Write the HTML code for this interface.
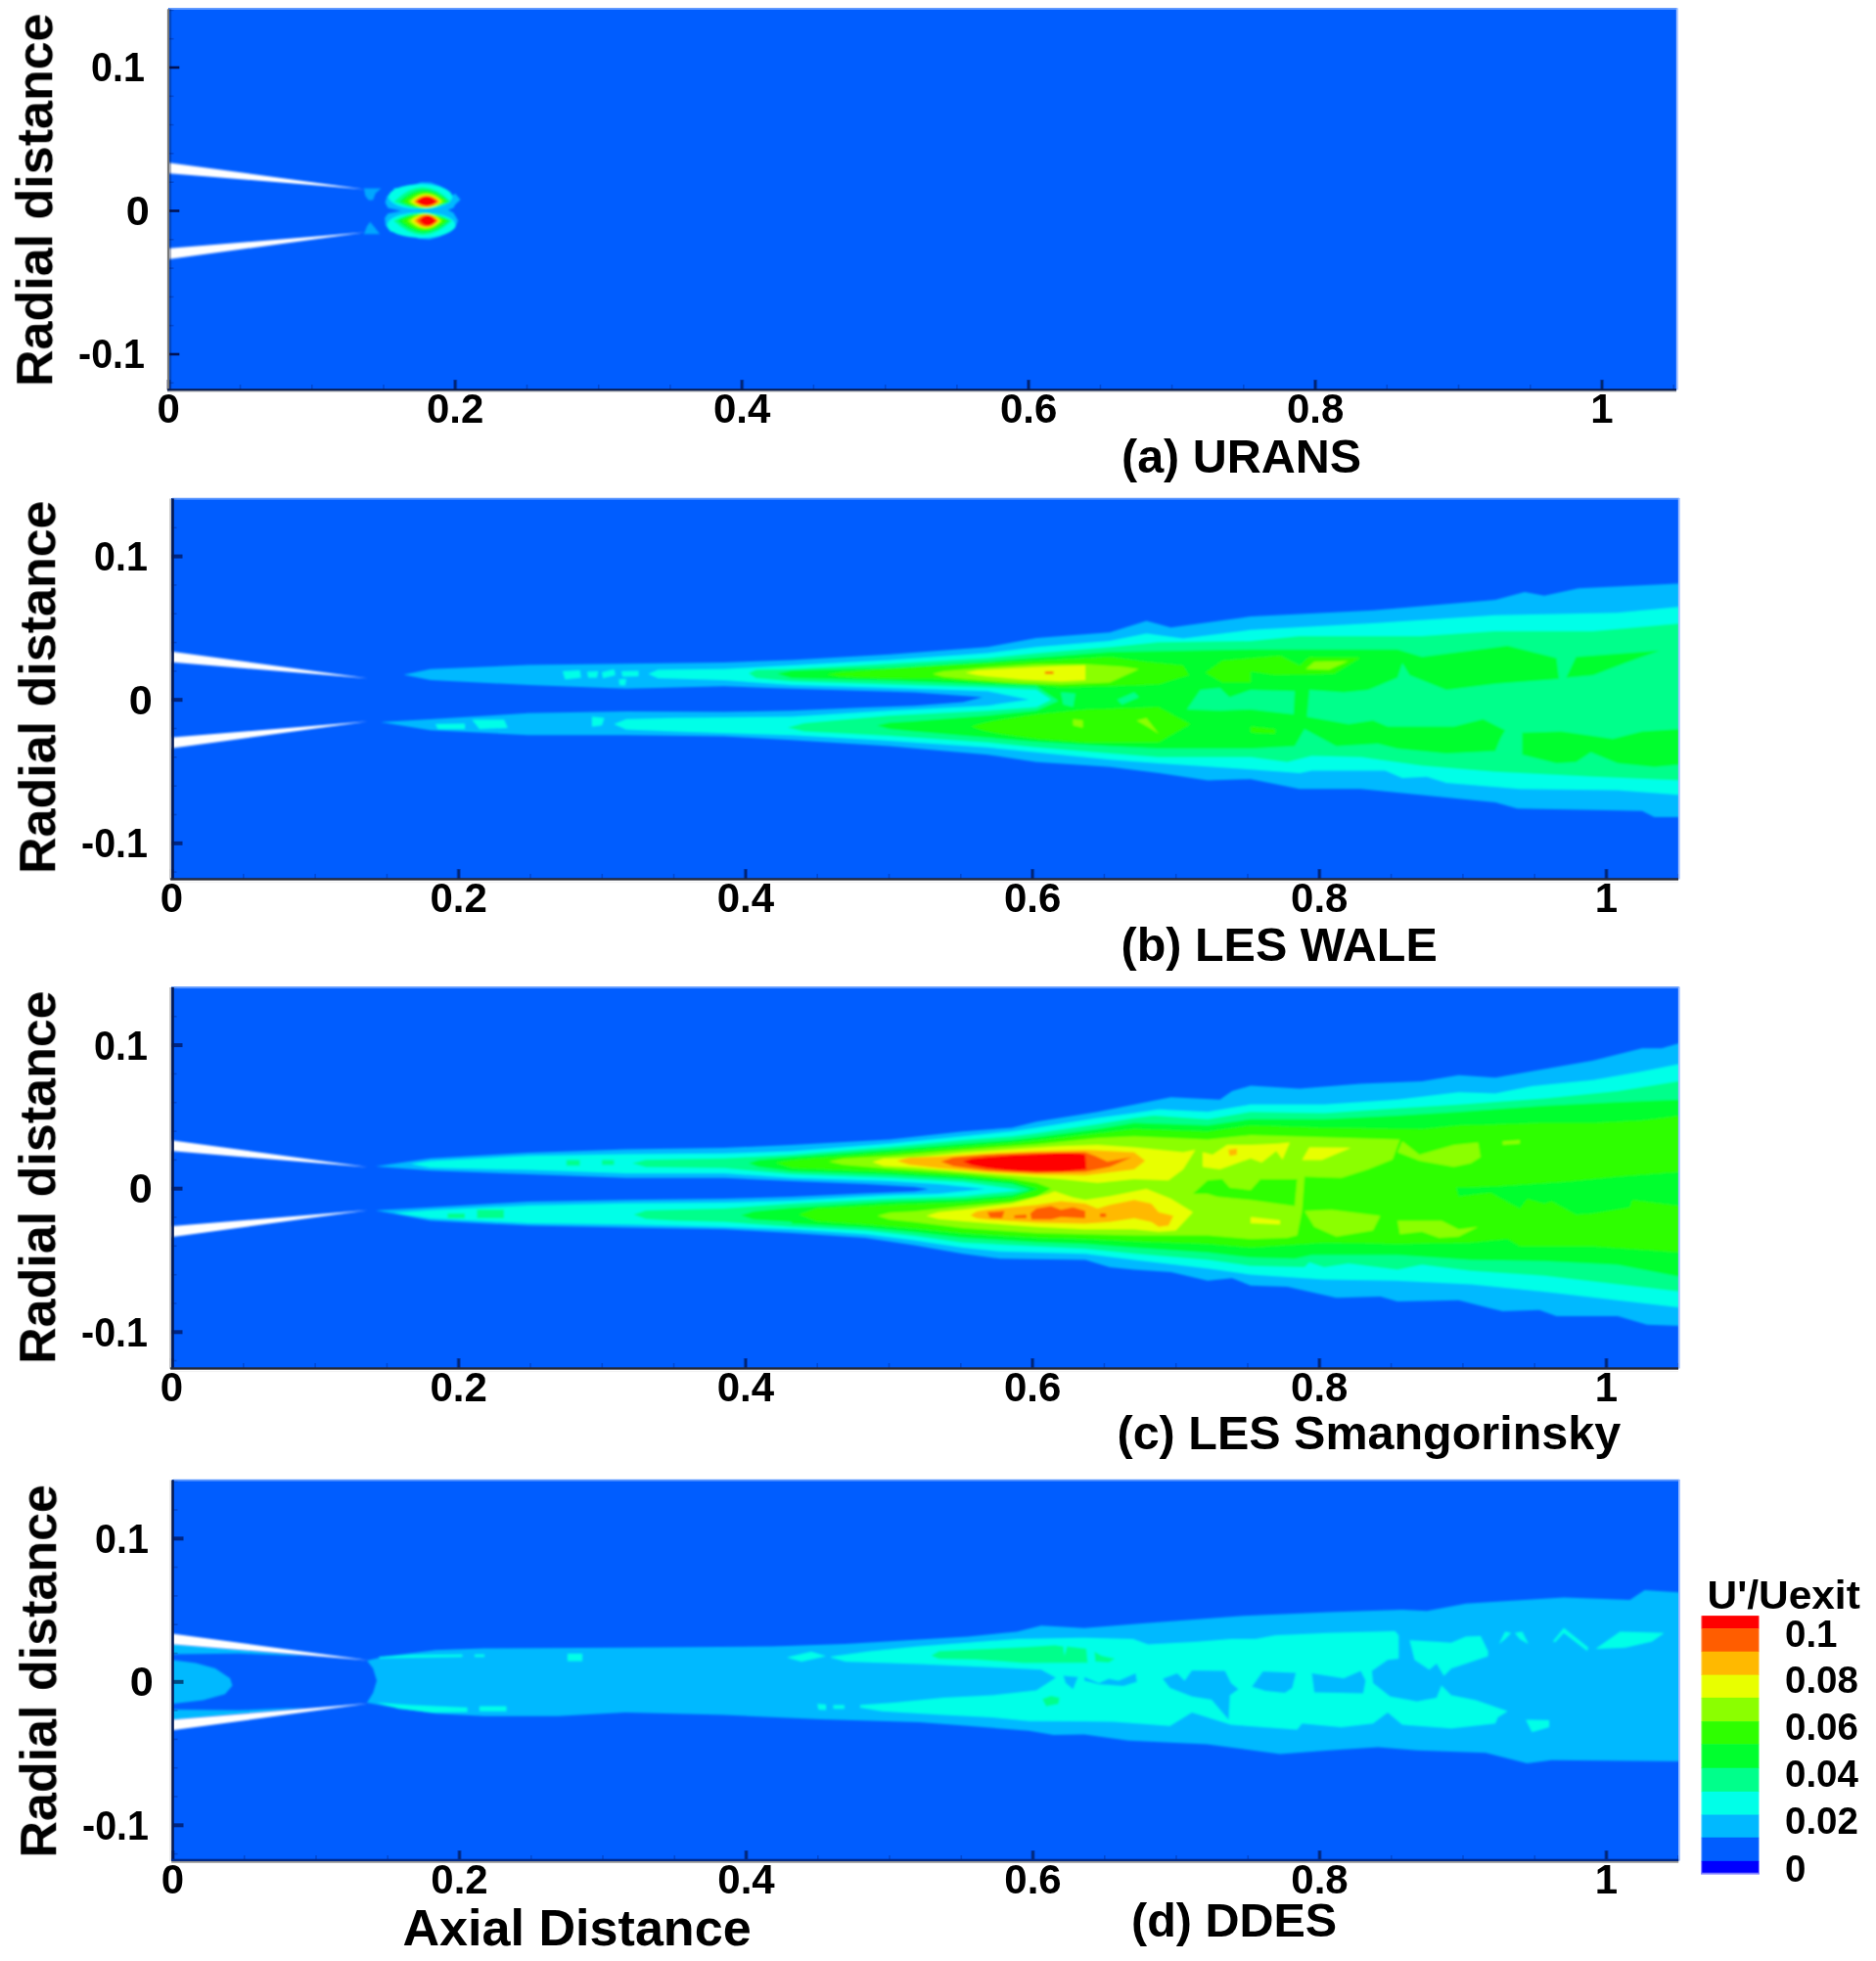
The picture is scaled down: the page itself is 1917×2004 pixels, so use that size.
<!DOCTYPE html>
<html><head><meta charset="utf-8"><title>Velocity fluctuation contours</title>
<style>
html,body{margin:0;padding:0;background:#fff;}
body{width:1917px;height:2004px;overflow:hidden;}
svg{display:block;}
text{font-family:"Liberation Sans",Arial,Helvetica,sans-serif;font-weight:bold;fill:#000;filter:url(#tx);}
</style></head><body>
<svg width="1917" height="2004" viewBox="0 0 1917 2004">
<defs>
<filter id="bl" x="-2%" y="-2%" width="104%" height="104%"><feGaussianBlur stdDeviation="0.9"/></filter>
<filter id="bl2" x="-5%" y="-5%" width="110%" height="110%"><feGaussianBlur stdDeviation="1.3"/></filter>
<filter id="tx" x="-5%" y="-10%" width="110%" height="120%"><feGaussianBlur stdDeviation="0.45"/></filter>
<filter id="tb" x="-5%" y="-5%" width="110%" height="110%"><feGaussianBlur stdDeviation="0.6"/></filter>
<filter id="wb" x="-5%" y="-20%" width="110%" height="140%"><feGaussianBlur stdDeviation="0.9"/></filter>
<clipPath id="ca"><rect x="172.0" y="8.3" width="1541.0" height="390.2"/></clipPath><clipPath id="cb"><rect x="175.0" y="509.0" width="1540.0" height="389.5"/></clipPath><clipPath id="cc"><rect x="175.0" y="1008.5" width="1540.0" height="390.0"/></clipPath><clipPath id="cd"><rect x="176.0" y="1512.0" width="1539.2" height="389.5"/></clipPath>
</defs>
<rect width="1917" height="2004" fill="#fff"/>
<rect x="172" y="8.2" width="1541" height="390.8" fill="#005dff"/>
<g filter="url(#bl2)" clip-path="url(#ca)"><path d="M393.6 207.0L395.7 200.1L401.4 197.0L402.6 192.0L409.5 192.0L413.9 195.7L421.4 189.5L430.2 186.3L440.2 186.6L449.0 189.8L456.5 193.8L460.9 200.1L465.3 198.0L470.5 203.9L465.3 208.9L463.4 212.6L457.8 214.5L463.4 217.6L468.0 225.2L465.3 232.7L457.8 237.7L449.0 242.1L439.0 244.8L427.7 243.9L420.2 240.2L410.1 236.4L398.9 237.1L393.9 230.2L393.2 222.7L396.4 218.3L410.1 215.4L396.4 212.6Z" fill="#00b9ff"/><ellipse cx="429.6" cy="200.9" rx="32.6" ry="12.7" fill="#00ffe8"/><ellipse cx="430.5" cy="230.0" rx="34.8" ry="13.0" fill="#00ffe8"/><path d="M402.6 206.0Q431.8 176.7 460.9 206.0Q431.8 220.5 402.6 206.0Z" fill="#00ff8b"/><path d="M402.0 225.5Q432.1 209.3 462.1 225.5Q432.1 254.8 402.0 225.5Z" fill="#00ff8b"/><path d="M408.3 206.0Q433.3 182.2 458.4 206.0Q433.3 219.8 408.3 206.0Z" fill="#00ff2e"/><path d="M406.4 225.5Q432.7 210.0 459.0 225.5Q432.7 249.3 406.4 225.5Z" fill="#00ff2e"/><path d="M412.0 206.0Q434.3 186.2 456.5 206.0Q434.3 219.3 412.0 206.0Z" fill="#2eff00"/><path d="M410.8 225.5Q433.6 210.8 456.5 225.5Q433.6 245.8 410.8 225.5Z" fill="#2eff00"/><path d="M417.0 206.0Q435.2 189.7 453.4 206.0Q435.2 218.5 417.0 206.0Z" fill="#8bff00"/><path d="M416.4 225.5Q434.3 211.5 452.1 225.5Q434.3 242.6 416.4 225.5Z" fill="#8bff00"/><path d="M419.9 206.0Q435.6 191.7 451.2 206.0Q435.6 217.8 419.9 206.0Z" fill="#e8ff00"/><path d="M419.9 225.5Q435.0 212.3 450.0 225.5Q435.0 240.6 419.9 225.5Z" fill="#e8ff00"/><path d="M422.0 206.0Q435.9 193.2 449.7 206.0Q435.9 216.8 422.0 206.0Z" fill="#ffb900"/><path d="M422.4 225.5Q435.5 213.0 448.5 225.5Q435.5 239.1 422.4 225.5Z" fill="#ffb900"/><path d="M423.9 206.0Q436.0 194.5 448.0 206.0Q436.0 215.8 423.9 206.0Z" fill="#ff5d00"/><path d="M425.2 225.5Q436.1 213.8 447.1 225.5Q436.1 237.6 425.2 225.5Z" fill="#ff5d00"/><path d="M425.8 206.0Q436.0 195.7 446.2 206.0Q436.0 214.8 425.8 206.0Z" fill="#ff0000"/><path d="M428.7 225.5Q437.1 214.8 445.5 225.5Q437.1 235.6 428.7 225.5Z" fill="#ff0000"/><path d="M371.9 192.6L389.5 192.6L383.8 197.6L381.1 204.5L376.6 204.5L373.2 200.1Z" fill="#00b9ff" opacity="0.8"/><path d="M378.2 226.7L383.2 232.7L388.2 239.2L371.9 239.2L374.8 231.4Z" fill="#00b9ff" opacity="0.8"/></g>
<rect x="175" y="509" width="1540" height="389" fill="#005dff"/>
<g filter="url(#bl)" clip-path="url(#cb)"><path d="M412.5 689.5L440.0 683.8L540.0 679.5L640.0 678.2L740.0 677.0L809.0 674.5L909.0 668.8L1009.0 661.2L1059.0 652.0L1134.0 646.2L1171.5 634.5L1196.5 641.2L1278.0 630.0L1403.0 623.8L1528.0 613.0L1558.0 605.0L1578.0 608.8L1613.0 601.2L1718.0 596.2L1718.0 835.0L1690.5 835.0L1678.0 828.8L1550.5 826.2L1528.0 820.0L1478.0 815.0L1428.0 810.0L1390.5 806.2L1328.0 806.2L1278.0 796.2L1234.0 797.5L1184.0 790.0L1134.0 783.8L1059.0 778.8L1009.0 771.2L909.0 762.5L809.0 756.2L740.0 752.5L640.0 751.2L540.0 751.2L440.0 746.2L388.8 738.0L440.0 735.0L540.0 728.8L640.0 727.0L740.0 727.5L809.0 726.2L884.0 723.0L934.0 721.2L984.0 717.5L1004.0 712.5L934.0 707.5L809.0 703.8L740.0 701.2L640.0 703.8L540.0 700.0L440.0 695.0Z" fill="#00b9ff"/><path d="M662.5 688.8L672.5 684.5L740.0 683.8L809.0 680.0L909.0 674.5L1009.0 667.5L1059.0 661.2L1134.0 655.0L1171.5 647.5L1209.0 652.5L1278.0 643.8L1403.0 637.0L1528.0 628.8L1653.0 626.2L1718.0 620.0L1718.0 812.5L1653.0 807.5L1553.0 806.2L1478.0 800.0L1458.0 793.8L1433.0 795.0L1415.5 787.5L1340.5 787.5L1328.0 790.0L1278.0 786.2L1184.0 780.0L1134.0 776.2L1059.0 768.8L1009.0 763.8L909.0 757.0L809.0 751.2L690.0 747.5L640.0 745.5L627.5 740.0L640.0 735.0L690.0 733.8L809.0 732.5L909.0 726.2L1009.0 721.2L1051.5 715.0L1009.0 706.2L909.0 703.0L809.0 700.0L740.0 695.0L672.5 693.0Z" fill="#00ffe8"/><path d="M575.0 686.0L592.5 685.0L593.8 692.5L577.5 694.2Z M600.0 686.5L611.2 686.0L610.0 692.5L601.2 692.5Z M615.0 687.0L627.5 684.0L628.8 690.0L616.2 693.0Z M635.0 686.0L652.5 685.5L652.5 691.0L636.2 691.5Z M632.5 694.2L640.0 693.8L638.8 700.5L633.0 700.0Z M445.0 740.0L475.0 739.5L475.0 745.0L447.5 745.0Z M482.5 735.5L515.0 735.5L518.8 743.8L490.0 745.0Z M605.0 732.5L617.5 733.8L615.0 741.2L605.0 742.5Z" fill="#00ffe8"/><path d="M765.0 688.0L772.5 684.5L809.0 683.8L909.0 678.2L1009.0 672.5L1059.0 667.5L1134.0 661.2L1184.0 656.2L1278.0 655.0L1328.0 650.0L1453.0 650.0L1528.0 645.0L1628.0 645.0L1718.0 637.0L1718.0 797.5L1628.0 793.8L1528.0 788.8L1453.0 782.5L1390.5 773.8L1340.5 772.5L1315.5 778.8L1278.0 773.8L1184.0 773.8L1134.0 770.0L1059.0 763.8L1009.0 758.8L909.0 752.0L821.5 747.5L804.8 743.5L821.5 739.0L909.0 731.2L1009.0 726.2L1059.0 722.5L1074.0 715.0L1059.0 705.0L1009.0 702.5L909.0 699.5L809.0 696.2L772.5 693.0Z" fill="#00ff8b"/><path d="M794.0 688.5L809.0 685.2L909.0 682.5L1009.0 676.2L1059.0 672.0L1134.0 666.2L1209.0 665.0L1278.0 663.8L1428.0 663.8L1453.0 671.2L1540.5 660.0L1565.5 666.2L1590.5 672.5L1593.0 693.8L1528.0 698.8L1478.0 705.0L1440.5 690.0L1433.0 677.5L1428.0 692.5L1398.0 705.0L1373.0 707.5L1338.0 705.0L1335.5 732.5L1378.0 740.0L1403.0 736.2L1418.0 742.5L1485.5 742.5L1515.5 735.0L1538.0 746.2L1533.0 755.0L1528.0 767.5L1478.0 770.0L1428.0 765.0L1408.0 760.0L1365.5 762.5L1333.0 745.0L1323.0 762.5L1278.0 765.0L1184.0 765.0L1134.0 762.5L1059.0 758.0L1009.0 753.8L934.0 747.5L909.0 745.0L896.0 741.5L909.0 738.5L934.0 737.0L1009.0 731.2L1059.0 726.2L1081.5 716.2L1059.0 701.2L1009.0 699.5L909.0 695.5L809.0 693.0Z" fill="#00ff2e"/><path d="M1600.5 692.5L1610.5 671.2L1695.5 665.0L1660.5 677.5L1628.0 690.0Z M1555.5 748.8L1595.5 747.5L1648.0 755.0L1678.0 747.5L1718.0 745.0L1718.0 781.2L1690.5 783.8L1653.0 780.0L1625.5 768.8L1610.5 778.8L1590.5 780.0L1555.5 771.2Z" fill="#00ff2e"/><path d="M1084.0 707.5L1099.0 708.8L1096.5 722.5L1086.5 720.0Z M1141.5 715.0L1159.0 707.5L1164.0 712.5L1146.5 720.0Z M1212.8 725.0L1226.5 705.0L1246.5 703.0L1256.5 712.5L1278.0 705.0L1323.0 706.2L1321.8 730.0L1278.0 725.0L1246.5 726.2Z" fill="#00ff8b"/><path d="M844.0 689.2L859.0 687.0L896.5 684.5L959.0 680.5L1059.0 675.5L1134.0 671.2L1171.5 676.2L1209.0 680.0L1215.2 690.0L1184.0 699.5L1134.0 701.2L1084.0 702.5L1059.0 700.0L1009.0 697.5L959.0 693.8L896.5 693.0L859.0 691.5Z M992.0 742.5L1004.0 739.0L1021.5 735.5L1059.0 730.0L1109.0 725.0L1184.0 722.5L1216.5 740.0L1184.0 758.8L1109.0 758.8L1059.0 755.0L1021.5 750.0L1004.0 746.5Z" fill="#2eff00"/><path d="M1231.5 687.5L1249.0 675.0L1278.0 672.5L1278.0 697.5L1249.0 697.5Z M1278.0 672.5L1308.0 670.0L1328.0 680.0L1338.0 671.2L1390.5 672.0L1363.0 688.8L1303.0 690.0L1278.0 686.2Z M1278.0 742.5L1303.0 745.0L1303.0 750.0L1278.0 748.8Z" fill="#2eff00"/><path d="M952.8 688.8L964.0 686.0L1009.0 682.0L1059.0 678.8L1109.0 678.8L1146.5 681.2L1164.0 683.8L1134.0 697.5L1084.0 699.5L1034.0 697.5L984.0 693.8L964.0 691.8Z M1096.5 735.0L1106.5 736.2L1106.5 743.8L1096.5 741.2Z M1161.5 736.2L1171.5 733.8L1184.0 750.0L1176.5 745.0Z M1334.2 683.8L1343.0 676.2L1378.0 675.5L1358.0 684.5Z" fill="#8bff00"/><path d="M986.5 687.5L999.0 685.0L1034.0 683.0L1084.0 680.5L1109.0 680.0L1109.0 695.0L1084.0 696.2L1046.5 694.5L1009.0 691.2L999.0 690.0Z" fill="#e8ff00"/><path d="M1067.8 686.2L1076.5 686.2L1076.5 688.8L1067.8 688.8Z" fill="#ff5d00" opacity="0.85"/></g>
<rect x="175" y="1008.5" width="1540" height="389.5" fill="#005dff"/>
<g filter="url(#bl)" clip-path="url(#cc)"><path d="M383.8 1192.0L440.0 1183.8L540.0 1178.0L640.0 1174.5L740.0 1173.0L809.0 1170.0L909.0 1164.5L984.0 1156.2L1034.0 1152.5L1059.0 1146.2L1121.5 1136.2L1159.0 1128.8L1196.5 1121.2L1246.5 1123.8L1259.0 1115.0L1278.0 1109.5L1328.0 1112.5L1390.5 1107.5L1453.0 1105.0L1490.5 1098.8L1528.0 1101.2L1578.0 1092.5L1628.0 1083.8L1678.0 1071.2L1698.0 1071.2L1718.0 1065.5L1718.0 1355.0L1683.0 1353.8L1653.0 1345.0L1590.5 1345.0L1573.0 1338.8L1535.5 1340.0L1490.5 1328.8L1428.0 1330.0L1410.5 1325.0L1365.5 1326.2L1315.5 1315.0L1278.0 1313.8L1259.0 1306.2L1234.0 1308.8L1196.5 1300.0L1159.0 1297.5L1134.0 1295.0L1109.0 1287.5L1021.5 1286.2L984.0 1281.2L934.0 1272.5L884.0 1265.0L809.0 1260.0L740.0 1256.2L640.0 1254.5L540.0 1252.5L440.0 1247.5L383.8 1237.0L440.0 1233.8L540.0 1228.0L640.0 1226.2L740.0 1225.0L809.0 1223.0L884.0 1219.5L934.0 1217.5L949.0 1215.2L934.0 1213.0L884.0 1210.0L809.0 1207.0L740.0 1203.8L640.0 1203.8L540.0 1200.0L440.0 1196.2Z" fill="#00b9ff"/><path d="M420.0 1189.5L440.0 1186.5L540.0 1181.2L640.0 1179.5L740.0 1178.8L809.0 1176.5L909.0 1168.8L984.0 1161.2L1034.0 1156.2L1059.0 1152.5L1121.5 1142.5L1159.0 1137.5L1184.0 1133.8L1234.0 1136.2L1278.0 1128.8L1353.0 1128.8L1428.0 1123.8L1490.5 1116.2L1528.0 1117.5L1565.5 1110.0L1628.0 1103.8L1678.0 1095.0L1718.0 1087.0L1718.0 1336.2L1653.0 1328.8L1578.0 1320.0L1503.0 1312.5L1428.0 1308.8L1353.0 1307.5L1278.0 1302.5L1234.0 1296.2L1159.0 1287.5L1109.0 1281.2L1021.5 1278.8L984.0 1275.0L934.0 1267.5L884.0 1261.2L809.0 1256.2L740.0 1253.8L640.0 1251.2L540.0 1250.0L440.0 1245.0L402.5 1239.5L440.0 1236.8L540.0 1232.0L640.0 1229.8L740.0 1229.0L809.0 1227.0L909.0 1221.5L959.0 1220.0L1006.5 1215.0L959.0 1210.0L909.0 1207.0L809.0 1203.8L740.0 1199.0L640.0 1199.0L540.0 1195.5L440.0 1193.2Z" fill="#00ffe8"/><path d="M646.0 1188.8L660.0 1185.2L740.0 1183.8L809.0 1180.0L909.0 1172.0L984.0 1165.0L1034.0 1161.2L1059.0 1158.0L1121.5 1148.8L1159.0 1142.5L1179.0 1140.0L1234.0 1143.8L1278.0 1136.2L1353.0 1137.5L1428.0 1132.5L1490.5 1128.8L1578.0 1122.5L1653.0 1115.0L1718.0 1104.5L1718.0 1320.0L1653.0 1312.5L1578.0 1303.8L1503.0 1298.8L1453.0 1292.5L1428.0 1297.5L1378.0 1291.2L1353.0 1295.0L1338.0 1290.0L1333.0 1295.0L1278.0 1293.8L1234.0 1287.5L1159.0 1281.2L1109.0 1276.2L1059.0 1273.8L984.0 1270.0L934.0 1263.0L884.0 1257.5L809.0 1253.8L740.0 1248.8L690.0 1247.5L660.0 1245.8L647.5 1241.2L660.0 1237.0L690.0 1236.2L740.0 1235.0L809.0 1230.0L909.0 1225.0L984.0 1222.5L1044.0 1216.2L984.0 1208.0L909.0 1203.8L809.0 1200.0L740.0 1193.8L660.0 1192.8Z" fill="#00ff8b"/><path d="M578.8 1185.5L592.5 1185.5L592.5 1191.2L578.8 1191.2Z M615.0 1185.5L627.5 1185.5L627.5 1190.5L615.0 1190.5Z M457.5 1240.0L475.0 1240.0L475.0 1245.0L457.5 1245.0Z M487.5 1236.2L515.0 1236.2L515.0 1245.0L487.5 1245.0Z" fill="#00ff8b"/><path d="M765.0 1188.8L775.0 1185.5L809.0 1182.5L909.0 1175.0L984.0 1168.8L1034.0 1165.0L1059.0 1162.0L1121.5 1153.8L1159.0 1147.5L1234.0 1150.0L1278.0 1143.8L1353.0 1143.8L1428.0 1140.0L1490.5 1136.2L1578.0 1130.0L1653.0 1126.2L1718.0 1123.8L1718.0 1305.0L1653.0 1292.5L1578.0 1288.8L1503.0 1287.5L1428.0 1282.5L1340.5 1282.5L1323.0 1286.2L1278.0 1285.0L1234.0 1280.0L1159.0 1275.0L1109.0 1271.2L1059.0 1269.5L984.0 1265.0L934.0 1259.2L884.0 1254.5L809.0 1250.5L809.0 1248.8L770.0 1246.2L757.0 1242.0L770.0 1238.0L809.0 1234.2L909.0 1228.0L984.0 1225.5L1034.0 1221.2L1052.8 1215.8L1034.0 1210.0L984.0 1205.0L909.0 1200.5L809.0 1197.0L775.0 1192.5Z" fill="#00ff2e"/><path d="M792.0 1188.2L809.0 1185.5L909.0 1178.0L984.0 1172.0L1034.0 1168.0L1059.0 1165.5L1121.5 1158.0L1159.0 1153.8L1234.0 1156.2L1278.0 1150.0L1353.0 1152.5L1453.0 1153.8L1490.5 1150.0L1578.0 1147.5L1628.0 1147.5L1678.0 1145.0L1718.0 1140.0L1718.0 1280.0L1628.0 1273.8L1553.0 1273.8L1540.5 1266.2L1503.0 1270.0L1428.0 1271.2L1353.0 1270.0L1278.0 1275.0L1234.0 1271.2L1159.0 1268.8L1109.0 1266.2L1059.0 1265.0L984.0 1260.5L934.0 1255.5L884.0 1251.2L834.0 1248.0L816.0 1241.0L834.0 1235.0L909.0 1231.2L984.0 1228.8L1034.0 1224.5L1061.5 1215.0L1034.0 1207.0L984.0 1202.0L909.0 1197.5L809.0 1193.8Z" fill="#2eff00"/><path d="M1488.0 1213.8L1528.0 1212.5L1603.0 1207.5L1653.0 1202.5L1718.0 1197.5L1718.0 1232.5L1668.0 1226.2L1665.5 1233.8L1628.0 1240.0L1610.5 1241.2L1585.5 1227.5L1578.0 1230.0L1560.5 1225.0L1553.0 1235.0L1523.0 1218.8L1490.5 1222.5Z" fill="#00ff2e"/><path d="M846.5 1187.0L861.5 1184.0L909.0 1181.2L984.0 1175.0L1034.0 1171.2L1059.0 1169.5L1121.5 1163.0L1159.0 1161.2L1234.0 1164.5L1278.0 1160.0L1430.5 1164.5L1423.0 1185.0L1398.0 1195.0L1370.5 1203.8L1333.0 1202.5L1330.5 1237.5L1325.5 1262.5L1315.5 1265.0L1278.0 1266.2L1234.0 1262.5L1159.0 1262.5L1109.0 1261.2L1059.0 1260.0L984.0 1255.0L934.0 1248.8L909.0 1246.2L896.5 1242.5L909.0 1239.2L934.0 1238.0L984.0 1232.5L1034.0 1228.0L1059.0 1223.0L1074.0 1214.5L1059.0 1208.8L1034.0 1204.5L984.0 1199.5L909.0 1194.5L861.5 1190.2Z" fill="#8bff00"/><path d="M1433.0 1166.2L1450.5 1180.0L1485.5 1170.0L1510.5 1167.5L1513.0 1182.5L1503.0 1188.8L1485.5 1192.5L1450.5 1186.2L1428.0 1177.5Z M1333.0 1237.5L1360.5 1236.2L1410.5 1242.5L1403.0 1257.5L1365.5 1263.8L1343.0 1253.8Z M1428.0 1247.5L1473.0 1247.5L1490.5 1256.2L1510.5 1253.8L1490.5 1263.8L1470.5 1265.0L1453.0 1258.8L1430.5 1261.2Z M1535.5 1166.2L1553.0 1165.0L1553.0 1168.8L1535.5 1170.0Z" fill="#8bff00"/><path d="M1219.0 1220.0L1234.0 1206.2L1249.0 1205.0L1256.5 1213.8L1278.0 1216.2L1288.0 1205.0L1325.5 1205.0L1323.0 1232.5L1278.0 1226.2L1244.0 1223.0L1234.0 1220.0Z" fill="#2eff00"/><path d="M891.5 1187.5L902.8 1184.0L934.0 1183.0L984.0 1178.0L1034.0 1174.5L1084.0 1171.2L1121.5 1170.0L1159.0 1172.5L1209.0 1177.5L1221.5 1175.0L1209.0 1195.0L1194.0 1206.2L1159.0 1205.0L1121.5 1208.8L1084.0 1205.0L1034.0 1201.2L984.0 1197.5L934.0 1193.0L902.8 1191.5Z M1229.0 1177.5L1239.0 1180.0L1254.0 1170.0L1278.0 1170.0L1305.5 1168.8L1318.0 1167.5L1310.5 1185.0L1304.2 1176.2L1289.2 1188.0L1278.0 1183.8L1246.5 1195.0L1229.0 1192.5Z M1330.5 1185.5L1338.0 1172.5L1380.5 1173.0L1350.5 1185.5Z M1278.0 1243.8L1308.0 1247.0L1308.0 1251.2L1278.0 1250.0Z M946.5 1242.5L959.0 1238.8L984.0 1236.2L1034.0 1230.0L1071.5 1220.0L1077.8 1217.5L1096.5 1223.8L1109.0 1226.2L1134.0 1222.5L1171.5 1215.0L1196.5 1225.0L1219.0 1238.8L1201.5 1257.5L1184.0 1258.8L1159.0 1256.2L1109.0 1256.2L1059.0 1253.8L1034.0 1252.0L984.0 1248.0L959.0 1245.8Z" fill="#e8ff00"/><path d="M916.5 1186.2L929.0 1183.0L959.0 1182.0L1009.0 1178.8L1059.0 1176.2L1109.0 1175.0L1159.0 1177.5L1170.2 1186.2L1159.0 1195.0L1109.0 1201.2L1059.0 1200.5L1009.0 1198.0L959.0 1193.8L929.0 1190.2Z M991.5 1242.0L997.8 1238.0L1009.0 1236.2L1059.0 1231.2L1084.0 1227.5L1109.0 1230.0L1121.5 1235.0L1134.0 1231.2L1159.0 1226.2L1176.5 1230.0L1184.0 1238.8L1199.0 1242.5L1194.0 1252.5L1184.0 1253.8L1176.5 1248.8L1159.0 1245.0L1134.0 1248.8L1109.0 1250.5L1059.0 1249.5L1009.0 1246.2L997.8 1245.0Z" fill="#ffb900"/><path d="M961.5 1187.0L974.0 1183.0L1009.0 1180.0L1059.0 1178.0L1109.0 1177.5L1119.0 1181.2L1131.5 1187.0L1156.5 1182.5L1134.0 1192.5L1109.0 1197.5L1059.0 1198.8L1009.0 1196.2L974.0 1191.8Z M1009.0 1238.8L1026.5 1237.5L1024.0 1245.0L1011.5 1244.5Z M1036.5 1242.0L1049.0 1241.2L1049.0 1245.0L1036.5 1245.0Z M1052.8 1240.0L1059.0 1235.0L1074.0 1232.5L1084.0 1236.2L1096.5 1233.8L1109.0 1237.5L1109.0 1245.0L1084.0 1243.8L1074.0 1246.2L1054.0 1246.2Z M1124.0 1240.0L1130.2 1240.0L1130.2 1243.8L1124.0 1243.8Z" fill="#ff5d00"/><path d="M1255.2 1175.0L1264.0 1173.8L1264.0 1180.0L1256.5 1181.2Z" fill="#ffb900"/><path d="M984.0 1187.0L992.8 1184.0L1009.0 1182.5L1034.0 1180.5L1059.0 1179.5L1084.0 1178.0L1104.0 1178.8L1109.0 1180.0L1110.2 1195.0L1084.0 1197.5L1059.0 1197.5L1034.0 1196.2L1009.0 1193.8L992.8 1190.8Z" fill="#ff0000"/></g>
<rect x="176" y="1512" width="1539.4" height="389.5" fill="#005dff"/>
<g filter="url(#bl)" clip-path="url(#cd)"><path d="M375.0 1697.0L395.0 1692.5L445.0 1686.2L495.0 1684.5L639.0 1683.8L789.0 1682.5L864.0 1680.0L926.5 1676.2L989.0 1672.5L1039.0 1667.5L1064.0 1661.2L1108.0 1663.8L1170.5 1658.8L1270.5 1651.2L1358.0 1647.5L1433.0 1645.0L1458.0 1646.2L1498.0 1638.8L1598.0 1632.5L1665.5 1635.0L1680.5 1625.0L1720.5 1627.5L1720.5 1800.0L1585.5 1798.8L1560.5 1802.0L1518.0 1791.2L1448.0 1788.8L1408.0 1785.5L1358.0 1788.8L1308.0 1792.5L1233.0 1782.5L1153.0 1778.8L1108.0 1772.5L1076.5 1773.0L1051.5 1768.8L989.0 1763.8L939.0 1760.0L839.0 1757.0L739.0 1752.5L639.0 1750.0L570.0 1753.8L495.0 1753.8L445.0 1751.2L420.0 1747.5L395.0 1743.8L375.0 1740.0L381.2 1730.0L385.0 1717.5L381.2 1705.0Z" fill="#00b9ff"/><path d="M175.0 1696.2L200.0 1699.5L220.0 1705.0L235.0 1715.0L237.5 1722.5L230.0 1731.2L207.5 1737.5L175.0 1741.2Z M175.0 1679.5L175.0 1690.5L243.5 1689.8L292.8 1691.8L312.5 1692.0L243.5 1685.5Z M175.0 1758.0L175.0 1747.0L243.5 1747.8L292.8 1745.8L312.5 1745.5L243.5 1752.0Z" fill="#00b9ff"/><path d="M387.5 1693.0L420.0 1691.2L472.5 1690.8L472.5 1693.2L420.0 1694.0L387.5 1694.5Z M485.0 1690.8L495.0 1690.8L495.0 1693.2L485.0 1693.2Z M580.0 1690.0L595.0 1690.0L595.0 1697.5L580.0 1697.5Z M385.0 1740.0L420.0 1742.5L477.5 1745.0L477.5 1749.5L440.0 1750.0L407.5 1746.2Z M490.0 1743.8L517.5 1743.8L517.5 1748.8L490.0 1748.8Z M804.0 1693.8L829.0 1688.0L844.0 1692.5L819.0 1698.0Z M835.2 1741.2L844.0 1742.0L844.0 1747.5L836.5 1747.0Z M851.5 1742.5L862.8 1742.5L862.8 1746.2L851.5 1746.2Z M1440.5 1676.2L1483.0 1678.8L1498.0 1672.5L1513.0 1672.0L1520.5 1687.5L1520.5 1692.5L1483.0 1705.0L1475.5 1712.5L1468.0 1700.0L1460.5 1706.2L1445.5 1696.2Z M1531.8 1680.0L1538.0 1667.5L1544.2 1668.8L1538.0 1675.0Z M1548.0 1668.8L1555.5 1667.5L1561.8 1680.0L1553.0 1675.0Z M1586.8 1677.5L1598.0 1663.8L1623.0 1683.8L1621.8 1687.0L1598.0 1668.8L1589.2 1678.0Z M1630.5 1685.0L1655.5 1667.5L1700.5 1668.8L1688.0 1677.5L1660.5 1683.8Z M1559.2 1757.5L1583.0 1758.0L1583.0 1765.0L1565.5 1770.0Z M849.0 1693.0L889.0 1687.5L939.0 1682.5L989.0 1678.8L1039.0 1675.0L1108.0 1673.8L1158.0 1675.0L1173.0 1680.5L1220.5 1678.0L1258.0 1675.0L1283.0 1675.0L1303.0 1671.2L1358.0 1668.8L1425.5 1667.0L1429.2 1671.2L1429.2 1695.0L1418.0 1696.2L1401.8 1707.5L1403.0 1720.0L1420.5 1733.8L1448.0 1738.8L1468.0 1735.0L1473.0 1722.5L1483.0 1732.5L1508.0 1737.5L1540.5 1748.8L1530.5 1755.0L1528.0 1761.2L1483.0 1766.2L1433.0 1762.5L1418.0 1750.0L1403.0 1761.2L1370.5 1765.0L1330.5 1761.2L1325.5 1767.5L1258.0 1762.5L1218.0 1750.0L1195.5 1763.8L1138.0 1759.5L1108.0 1759.0L1051.5 1758.8L1014.0 1755.0L964.0 1752.5L901.5 1748.8L879.0 1745.0L879.0 1742.5L914.0 1740.0L964.0 1735.0L1014.0 1732.5L1059.0 1727.5L1079.0 1714.5L1064.0 1706.2L1014.0 1703.8L939.0 1700.5L864.0 1698.0L849.0 1693.8Z" fill="#00ffe8"/><path d="M1108.0 1713.8L1123.0 1720.0L1133.0 1715.5L1143.0 1717.5L1160.5 1710.0L1161.8 1718.8L1148.0 1723.0L1123.0 1721.2L1108.0 1717.5Z M1188.0 1715.5L1203.0 1710.0L1210.5 1717.5L1218.0 1707.0L1251.8 1707.5L1258.0 1720.0L1265.5 1726.2L1256.8 1732.5L1255.5 1757.5L1238.0 1737.0L1218.0 1733.8L1195.5 1725.0Z M1279.2 1723.8L1290.5 1708.0L1324.2 1709.5L1320.5 1725.0L1313.0 1730.0L1293.0 1728.0Z M1340.5 1710.0L1373.0 1715.0L1390.5 1707.5L1395.5 1717.5L1393.0 1730.5L1343.0 1729.5Z M1086.5 1712.5L1101.5 1713.8L1096.5 1726.2L1089.0 1720.0Z" fill="#00b9ff"/><path d="M951.5 1692.0L959.5 1687.2L998.0 1685.5L1046.0 1683.2L1078.0 1681.2L1086.5 1682.5L1087.8 1692.5L1090.2 1682.5L1110.0 1684.8L1111.5 1699.2L1046.0 1699.5L998.0 1696.0L959.5 1695.2Z M1118.5 1688.0L1125.5 1692.0L1139.2 1695.0L1133.0 1699.0L1119.2 1698.0Z M1065.2 1736.2L1074.0 1733.0L1082.8 1735.0L1081.5 1741.2L1069.0 1743.8Z" fill="#00ff8b"/></g>
<g filter="url(#wb)" clip-path="url(#ca)">
<path d="M170.0 165.9L170.0 176.9L372.3 193.5Z" fill="#fff"/>
<path d="M170.0 265.3L170.0 254.1L372.3 237.5Z" fill="#fff"/>
</g>
<g filter="url(#tb)"><rect x="170.2" y="388.0" width="4.2" height="10.5" fill="#00103c" opacity="0.32"/><rect x="171.3" y="388.5" width="2.0" height="10" fill="#000a30" opacity="0.55"/><rect x="244.7" y="393.0" width="1.6" height="5.5" fill="#00103c" opacity="0.22"/><rect x="318.0" y="393.0" width="1.6" height="5.5" fill="#00103c" opacity="0.22"/><rect x="391.2" y="393.0" width="1.6" height="5.5" fill="#00103c" opacity="0.22"/><rect x="463.1" y="388.0" width="4.2" height="10.5" fill="#00103c" opacity="0.32"/><rect x="464.2" y="388.5" width="2.0" height="10" fill="#000a30" opacity="0.55"/><rect x="537.7" y="393.0" width="1.6" height="5.5" fill="#00103c" opacity="0.22"/><rect x="610.9" y="393.0" width="1.6" height="5.5" fill="#00103c" opacity="0.22"/><rect x="684.1" y="393.0" width="1.6" height="5.5" fill="#00103c" opacity="0.22"/><rect x="756.1" y="388.0" width="4.2" height="10.5" fill="#00103c" opacity="0.32"/><rect x="757.2" y="388.5" width="2.0" height="10" fill="#000a30" opacity="0.55"/><rect x="830.6" y="393.0" width="1.6" height="5.5" fill="#00103c" opacity="0.22"/><rect x="903.9" y="393.0" width="1.6" height="5.5" fill="#00103c" opacity="0.22"/><rect x="977.1" y="393.0" width="1.6" height="5.5" fill="#00103c" opacity="0.22"/><rect x="1049.0" y="388.0" width="4.2" height="10.5" fill="#00103c" opacity="0.32"/><rect x="1050.1" y="388.5" width="2.0" height="10" fill="#000a30" opacity="0.55"/><rect x="1123.6" y="393.0" width="1.6" height="5.5" fill="#00103c" opacity="0.22"/><rect x="1196.8" y="393.0" width="1.6" height="5.5" fill="#00103c" opacity="0.22"/><rect x="1270.0" y="393.0" width="1.6" height="5.5" fill="#00103c" opacity="0.22"/><rect x="1342.0" y="388.0" width="4.2" height="10.5" fill="#00103c" opacity="0.32"/><rect x="1343.1" y="388.5" width="2.0" height="10" fill="#000a30" opacity="0.55"/><rect x="1416.5" y="393.0" width="1.6" height="5.5" fill="#00103c" opacity="0.22"/><rect x="1489.7" y="393.0" width="1.6" height="5.5" fill="#00103c" opacity="0.22"/><rect x="1563.0" y="393.0" width="1.6" height="5.5" fill="#00103c" opacity="0.22"/><rect x="1634.9" y="388.0" width="4.2" height="10.5" fill="#00103c" opacity="0.32"/><rect x="1636.0" y="388.5" width="2.0" height="10" fill="#000a30" opacity="0.55"/><rect x="1709.4" y="393.0" width="1.6" height="5.5" fill="#00103c" opacity="0.22"/><rect x="172.0" y="390.5" width="5.5" height="1.6" fill="#00103c" opacity="0.22"/><rect x="172.0" y="360.7" width="11.3" height="2.6" fill="#00082c" opacity="0.8"/><rect x="172.0" y="331.9" width="5.5" height="1.6" fill="#00103c" opacity="0.22"/><rect x="172.0" y="302.6" width="5.5" height="1.6" fill="#00103c" opacity="0.22"/><rect x="172.0" y="273.3" width="5.5" height="1.6" fill="#00103c" opacity="0.22"/><rect x="172.0" y="244.0" width="5.5" height="1.6" fill="#00103c" opacity="0.22"/><rect x="172.0" y="214.2" width="11.3" height="2.6" fill="#00082c" opacity="0.8"/><rect x="172.0" y="185.4" width="5.5" height="1.6" fill="#00103c" opacity="0.22"/><rect x="172.0" y="156.1" width="5.5" height="1.6" fill="#00103c" opacity="0.22"/><rect x="172.0" y="126.8" width="5.5" height="1.6" fill="#00103c" opacity="0.22"/><rect x="172.0" y="97.5" width="5.5" height="1.6" fill="#00103c" opacity="0.22"/><rect x="172.0" y="67.7" width="11.3" height="2.6" fill="#00082c" opacity="0.8"/><rect x="172.0" y="38.9" width="5.5" height="1.6" fill="#00103c" opacity="0.22"/><rect x="172.0" y="9.6" width="5.5" height="1.6" fill="#00103c" opacity="0.22"/></g>
<rect x="173.0" y="8.0" width="1541.0" height="2" fill="#6aa0ff" opacity="0.85"/>
<rect x="1712.8" y="8.3" width="2" height="390.2" fill="#9bbcff" opacity="0.9"/>
<rect x="170.9" y="9.3" width="2.2" height="390.2" fill="#787878"/>
<rect x="173.1" y="9.3" width="2.1" height="390.2" fill="#001040" opacity="0.3"/>
<rect x="171.0" y="397.3" width="1542.0" height="2.4" fill="#0a1c4a"/>
<rect x="171.0" y="399.7" width="1542.0" height="1.2" fill="#cfcfcf"/>
<text x="172.3" y="432.2" font-size="42" text-anchor="middle">0</text>
<text x="465.2" y="432.2" font-size="42" text-anchor="middle">0.2</text>
<text x="758.2" y="432.2" font-size="42" text-anchor="middle">0.4</text>
<text x="1051.1" y="432.2" font-size="42" text-anchor="middle">0.6</text>
<text x="1344.1" y="432.2" font-size="42" text-anchor="middle">0.8</text>
<text x="1637.0" y="432.2" font-size="42" text-anchor="middle">1</text>
<text transform="translate(148.0 83.4) scale(0.94 1)" font-size="42" text-anchor="end">0.1</text>
<text transform="translate(152.7 229.9) scale(1.03 1)" font-size="42" text-anchor="end">0</text>
<text transform="translate(148.0 376.4) scale(0.94 1)" font-size="42" text-anchor="end">-0.1</text>
<text transform="translate(53.3 204.3) rotate(-90)" font-size="52" text-anchor="middle">Radial distance</text>
<text x="1146.0" y="483.0" font-size="48.5">(a) URANS</text>
<g filter="url(#wb)" clip-path="url(#cb)">
<path d="M173.0 665.6L173.0 676.6L375.5 693.2Z" fill="#fff"/>
<path d="M173.0 765.0L173.0 753.8L375.5 737.2Z" fill="#fff"/>
</g>
<g filter="url(#tb)"><rect x="173.4" y="888.0" width="4.2" height="10.5" fill="#00103c" opacity="0.32"/><rect x="174.5" y="888.5" width="2.0" height="10" fill="#000a30" opacity="0.55"/><rect x="248.0" y="893.0" width="1.6" height="5.5" fill="#00103c" opacity="0.22"/><rect x="321.3" y="893.0" width="1.6" height="5.5" fill="#00103c" opacity="0.22"/><rect x="394.6" y="893.0" width="1.6" height="5.5" fill="#00103c" opacity="0.22"/><rect x="466.6" y="888.0" width="4.2" height="10.5" fill="#00103c" opacity="0.32"/><rect x="467.7" y="888.5" width="2.0" height="10" fill="#000a30" opacity="0.55"/><rect x="541.2" y="893.0" width="1.6" height="5.5" fill="#00103c" opacity="0.22"/><rect x="614.5" y="893.0" width="1.6" height="5.5" fill="#00103c" opacity="0.22"/><rect x="687.8" y="893.0" width="1.6" height="5.5" fill="#00103c" opacity="0.22"/><rect x="759.8" y="888.0" width="4.2" height="10.5" fill="#00103c" opacity="0.32"/><rect x="760.9" y="888.5" width="2.0" height="10" fill="#000a30" opacity="0.55"/><rect x="834.4" y="893.0" width="1.6" height="5.5" fill="#00103c" opacity="0.22"/><rect x="907.7" y="893.0" width="1.6" height="5.5" fill="#00103c" opacity="0.22"/><rect x="981.0" y="893.0" width="1.6" height="5.5" fill="#00103c" opacity="0.22"/><rect x="1053.0" y="888.0" width="4.2" height="10.5" fill="#00103c" opacity="0.32"/><rect x="1054.1" y="888.5" width="2.0" height="10" fill="#000a30" opacity="0.55"/><rect x="1127.6" y="893.0" width="1.6" height="5.5" fill="#00103c" opacity="0.22"/><rect x="1200.9" y="893.0" width="1.6" height="5.5" fill="#00103c" opacity="0.22"/><rect x="1274.2" y="893.0" width="1.6" height="5.5" fill="#00103c" opacity="0.22"/><rect x="1346.2" y="888.0" width="4.2" height="10.5" fill="#00103c" opacity="0.32"/><rect x="1347.3" y="888.5" width="2.0" height="10" fill="#000a30" opacity="0.55"/><rect x="1420.8" y="893.0" width="1.6" height="5.5" fill="#00103c" opacity="0.22"/><rect x="1494.1" y="893.0" width="1.6" height="5.5" fill="#00103c" opacity="0.22"/><rect x="1567.4" y="893.0" width="1.6" height="5.5" fill="#00103c" opacity="0.22"/><rect x="1639.4" y="888.0" width="4.2" height="10.5" fill="#00103c" opacity="0.32"/><rect x="1640.5" y="888.5" width="2.0" height="10" fill="#000a30" opacity="0.55"/><rect x="1714.0" y="893.0" width="1.6" height="5.5" fill="#00103c" opacity="0.22"/><rect x="175.0" y="890.3" width="5.5" height="1.6" fill="#00103c" opacity="0.22"/><rect x="175.0" y="859.8" width="11.5" height="4.0" fill="#00082c" opacity="0.6"/><rect x="175.0" y="831.7" width="5.5" height="1.6" fill="#00103c" opacity="0.22"/><rect x="175.0" y="802.4" width="5.5" height="1.6" fill="#00103c" opacity="0.22"/><rect x="175.0" y="773.0" width="5.5" height="1.6" fill="#00103c" opacity="0.22"/><rect x="175.0" y="743.7" width="5.5" height="1.6" fill="#00103c" opacity="0.22"/><rect x="175.0" y="713.2" width="11.5" height="4.0" fill="#00082c" opacity="0.6"/><rect x="175.0" y="685.1" width="5.5" height="1.6" fill="#00103c" opacity="0.22"/><rect x="175.0" y="655.8" width="5.5" height="1.6" fill="#00103c" opacity="0.22"/><rect x="175.0" y="626.4" width="5.5" height="1.6" fill="#00103c" opacity="0.22"/><rect x="175.0" y="597.1" width="5.5" height="1.6" fill="#00103c" opacity="0.22"/><rect x="175.0" y="566.6" width="11.5" height="4.0" fill="#00082c" opacity="0.6"/><rect x="175.0" y="538.5" width="5.5" height="1.6" fill="#00103c" opacity="0.22"/><rect x="175.0" y="509.2" width="5.5" height="1.6" fill="#00103c" opacity="0.22"/></g>
<rect x="176.0" y="508.7" width="1540.0" height="2" fill="#6aa0ff" opacity="0.85"/>
<rect x="1714.8" y="509.0" width="2" height="389.5" fill="#9bbcff" opacity="0.9"/>
<rect x="173.2" y="509.5" width="2.0" height="389.5" fill="#c4c4c4"/>
<rect x="175.2" y="509.5" width="2.6" height="389.5" fill="#061a52"/>
<rect x="174.2" y="897.3" width="1540.8" height="2.4" fill="#252a38"/>
<rect x="174.2" y="901.1" width="1540.8" height="1" fill="#f0f0f0"/>
<text x="175.5" y="932.2" font-size="42" text-anchor="middle">0</text>
<text x="468.7" y="932.2" font-size="42" text-anchor="middle">0.2</text>
<text x="761.9" y="932.2" font-size="42" text-anchor="middle">0.4</text>
<text x="1055.1" y="932.2" font-size="42" text-anchor="middle">0.6</text>
<text x="1348.3" y="932.2" font-size="42" text-anchor="middle">0.8</text>
<text x="1641.5" y="932.2" font-size="42" text-anchor="middle">1</text>
<text transform="translate(151.0 583.0) scale(0.94 1)" font-size="42" text-anchor="end">0.1</text>
<text transform="translate(155.7 729.6) scale(1.03 1)" font-size="42" text-anchor="end">0</text>
<text transform="translate(151.0 876.2) scale(0.94 1)" font-size="42" text-anchor="end">-0.1</text>
<text transform="translate(56.3 702.3) rotate(-90)" font-size="52" text-anchor="middle">Radial distance</text>
<text x="1145.5" y="981.8" font-size="48.5">(b) LES WALE</text>
<g filter="url(#wb)" clip-path="url(#cc)">
<path d="M173.0 1165.1L173.0 1176.1L375.5 1192.7Z" fill="#fff"/>
<path d="M173.0 1264.5L173.0 1253.3L375.5 1236.7Z" fill="#fff"/>
</g>
<g filter="url(#tb)"><rect x="173.4" y="1388.0" width="4.2" height="10.5" fill="#00103c" opacity="0.32"/><rect x="174.5" y="1388.5" width="2.0" height="10" fill="#000a30" opacity="0.55"/><rect x="248.0" y="1393.0" width="1.6" height="5.5" fill="#00103c" opacity="0.22"/><rect x="321.3" y="1393.0" width="1.6" height="5.5" fill="#00103c" opacity="0.22"/><rect x="394.6" y="1393.0" width="1.6" height="5.5" fill="#00103c" opacity="0.22"/><rect x="466.6" y="1388.0" width="4.2" height="10.5" fill="#00103c" opacity="0.32"/><rect x="467.7" y="1388.5" width="2.0" height="10" fill="#000a30" opacity="0.55"/><rect x="541.2" y="1393.0" width="1.6" height="5.5" fill="#00103c" opacity="0.22"/><rect x="614.5" y="1393.0" width="1.6" height="5.5" fill="#00103c" opacity="0.22"/><rect x="687.8" y="1393.0" width="1.6" height="5.5" fill="#00103c" opacity="0.22"/><rect x="759.8" y="1388.0" width="4.2" height="10.5" fill="#00103c" opacity="0.32"/><rect x="760.9" y="1388.5" width="2.0" height="10" fill="#000a30" opacity="0.55"/><rect x="834.4" y="1393.0" width="1.6" height="5.5" fill="#00103c" opacity="0.22"/><rect x="907.7" y="1393.0" width="1.6" height="5.5" fill="#00103c" opacity="0.22"/><rect x="981.0" y="1393.0" width="1.6" height="5.5" fill="#00103c" opacity="0.22"/><rect x="1053.0" y="1388.0" width="4.2" height="10.5" fill="#00103c" opacity="0.32"/><rect x="1054.1" y="1388.5" width="2.0" height="10" fill="#000a30" opacity="0.55"/><rect x="1127.6" y="1393.0" width="1.6" height="5.5" fill="#00103c" opacity="0.22"/><rect x="1200.9" y="1393.0" width="1.6" height="5.5" fill="#00103c" opacity="0.22"/><rect x="1274.2" y="1393.0" width="1.6" height="5.5" fill="#00103c" opacity="0.22"/><rect x="1346.2" y="1388.0" width="4.2" height="10.5" fill="#00103c" opacity="0.32"/><rect x="1347.3" y="1388.5" width="2.0" height="10" fill="#000a30" opacity="0.55"/><rect x="1420.8" y="1393.0" width="1.6" height="5.5" fill="#00103c" opacity="0.22"/><rect x="1494.1" y="1393.0" width="1.6" height="5.5" fill="#00103c" opacity="0.22"/><rect x="1567.4" y="1393.0" width="1.6" height="5.5" fill="#00103c" opacity="0.22"/><rect x="1639.4" y="1388.0" width="4.2" height="10.5" fill="#00103c" opacity="0.32"/><rect x="1640.5" y="1388.5" width="2.0" height="10" fill="#000a30" opacity="0.55"/><rect x="1714.0" y="1393.0" width="1.6" height="5.5" fill="#00103c" opacity="0.22"/><rect x="175.0" y="1389.8" width="5.5" height="1.6" fill="#00103c" opacity="0.22"/><rect x="175.0" y="1359.3" width="11.5" height="4.0" fill="#00082c" opacity="0.6"/><rect x="175.0" y="1331.2" width="5.5" height="1.6" fill="#00103c" opacity="0.22"/><rect x="175.0" y="1301.9" width="5.5" height="1.6" fill="#00103c" opacity="0.22"/><rect x="175.0" y="1272.5" width="5.5" height="1.6" fill="#00103c" opacity="0.22"/><rect x="175.0" y="1243.2" width="5.5" height="1.6" fill="#00103c" opacity="0.22"/><rect x="175.0" y="1212.7" width="11.5" height="4.0" fill="#00082c" opacity="0.6"/><rect x="175.0" y="1184.6" width="5.5" height="1.6" fill="#00103c" opacity="0.22"/><rect x="175.0" y="1155.3" width="5.5" height="1.6" fill="#00103c" opacity="0.22"/><rect x="175.0" y="1125.9" width="5.5" height="1.6" fill="#00103c" opacity="0.22"/><rect x="175.0" y="1096.6" width="5.5" height="1.6" fill="#00103c" opacity="0.22"/><rect x="175.0" y="1066.1" width="11.5" height="4.0" fill="#00082c" opacity="0.6"/><rect x="175.0" y="1038.0" width="5.5" height="1.6" fill="#00103c" opacity="0.22"/><rect x="175.0" y="1008.7" width="5.5" height="1.6" fill="#00103c" opacity="0.22"/></g>
<rect x="176.0" y="1008.2" width="1540.0" height="2" fill="#6aa0ff" opacity="0.85"/>
<rect x="1714.8" y="1008.5" width="2" height="390.0" fill="#9bbcff" opacity="0.9"/>
<rect x="173.2" y="1009.0" width="2.0" height="390.0" fill="#c0c0c0"/>
<rect x="175.2" y="1009.0" width="2.6" height="390.0" fill="#061a52"/>
<rect x="174.2" y="1397.3" width="1540.8" height="2.4" fill="#252a38"/>
<rect x="174.2" y="1401.1" width="1540.8" height="1" fill="#f0f0f0"/>
<text x="175.5" y="1432.2" font-size="42" text-anchor="middle">0</text>
<text x="468.7" y="1432.2" font-size="42" text-anchor="middle">0.2</text>
<text x="761.9" y="1432.2" font-size="42" text-anchor="middle">0.4</text>
<text x="1055.1" y="1432.2" font-size="42" text-anchor="middle">0.6</text>
<text x="1348.3" y="1432.2" font-size="42" text-anchor="middle">0.8</text>
<text x="1641.5" y="1432.2" font-size="42" text-anchor="middle">1</text>
<text transform="translate(151.0 1082.5) scale(0.94 1)" font-size="42" text-anchor="end">0.1</text>
<text transform="translate(155.7 1229.1) scale(1.03 1)" font-size="42" text-anchor="end">0</text>
<text transform="translate(151.0 1375.7) scale(0.94 1)" font-size="42" text-anchor="end">-0.1</text>
<text transform="translate(56.3 1203.2) rotate(-90)" font-size="52" text-anchor="middle">Radial distance</text>
<text x="1141.5" y="1481.4" font-size="48.5">(c) LES Smangorinsky</text>
<g filter="url(#wb)" clip-path="url(#cd)">
<path d="M174.0 1669.2L174.0 1680.2L376.5 1696.8Z" fill="#fff"/>
<path d="M174.0 1768.6L174.0 1757.4L376.5 1740.8Z" fill="#fff"/>
</g>
<g filter="url(#tb)"><rect x="174.4" y="1891.0" width="4.2" height="10.5" fill="#00103c" opacity="0.32"/><rect x="175.5" y="1891.5" width="2.0" height="10" fill="#000a30" opacity="0.55"/><rect x="248.9" y="1896.0" width="1.6" height="5.5" fill="#00103c" opacity="0.22"/><rect x="322.2" y="1896.0" width="1.6" height="5.5" fill="#00103c" opacity="0.22"/><rect x="395.4" y="1896.0" width="1.6" height="5.5" fill="#00103c" opacity="0.22"/><rect x="467.4" y="1891.0" width="4.2" height="10.5" fill="#00103c" opacity="0.32"/><rect x="468.5" y="1891.5" width="2.0" height="10" fill="#000a30" opacity="0.55"/><rect x="542.0" y="1896.0" width="1.6" height="5.5" fill="#00103c" opacity="0.22"/><rect x="615.2" y="1896.0" width="1.6" height="5.5" fill="#00103c" opacity="0.22"/><rect x="688.5" y="1896.0" width="1.6" height="5.5" fill="#00103c" opacity="0.22"/><rect x="760.4" y="1891.0" width="4.2" height="10.5" fill="#00103c" opacity="0.32"/><rect x="761.5" y="1891.5" width="2.0" height="10" fill="#000a30" opacity="0.55"/><rect x="835.0" y="1896.0" width="1.6" height="5.5" fill="#00103c" opacity="0.22"/><rect x="908.2" y="1896.0" width="1.6" height="5.5" fill="#00103c" opacity="0.22"/><rect x="981.5" y="1896.0" width="1.6" height="5.5" fill="#00103c" opacity="0.22"/><rect x="1053.4" y="1891.0" width="4.2" height="10.5" fill="#00103c" opacity="0.32"/><rect x="1054.5" y="1891.5" width="2.0" height="10" fill="#000a30" opacity="0.55"/><rect x="1128.0" y="1896.0" width="1.6" height="5.5" fill="#00103c" opacity="0.22"/><rect x="1201.2" y="1896.0" width="1.6" height="5.5" fill="#00103c" opacity="0.22"/><rect x="1274.5" y="1896.0" width="1.6" height="5.5" fill="#00103c" opacity="0.22"/><rect x="1346.4" y="1891.0" width="4.2" height="10.5" fill="#00103c" opacity="0.32"/><rect x="1347.5" y="1891.5" width="2.0" height="10" fill="#000a30" opacity="0.55"/><rect x="1421.0" y="1896.0" width="1.6" height="5.5" fill="#00103c" opacity="0.22"/><rect x="1494.2" y="1896.0" width="1.6" height="5.5" fill="#00103c" opacity="0.22"/><rect x="1567.5" y="1896.0" width="1.6" height="5.5" fill="#00103c" opacity="0.22"/><rect x="1639.4" y="1891.0" width="4.2" height="10.5" fill="#00103c" opacity="0.32"/><rect x="1640.5" y="1891.5" width="2.0" height="10" fill="#000a30" opacity="0.55"/><rect x="1714.0" y="1896.0" width="1.6" height="5.5" fill="#00103c" opacity="0.22"/><rect x="176.0" y="1893.8" width="5.5" height="1.6" fill="#00103c" opacity="0.22"/><rect x="176.0" y="1863.3" width="11.5" height="4.0" fill="#00082c" opacity="0.6"/><rect x="176.0" y="1835.2" width="5.5" height="1.6" fill="#00103c" opacity="0.22"/><rect x="176.0" y="1805.9" width="5.5" height="1.6" fill="#00103c" opacity="0.22"/><rect x="176.0" y="1776.6" width="5.5" height="1.6" fill="#00103c" opacity="0.22"/><rect x="176.0" y="1747.3" width="5.5" height="1.6" fill="#00103c" opacity="0.22"/><rect x="176.0" y="1716.8" width="11.5" height="4.0" fill="#00082c" opacity="0.6"/><rect x="176.0" y="1688.7" width="5.5" height="1.6" fill="#00103c" opacity="0.22"/><rect x="176.0" y="1659.4" width="5.5" height="1.6" fill="#00103c" opacity="0.22"/><rect x="176.0" y="1630.1" width="5.5" height="1.6" fill="#00103c" opacity="0.22"/><rect x="176.0" y="1600.8" width="5.5" height="1.6" fill="#00103c" opacity="0.22"/><rect x="176.0" y="1570.3" width="11.5" height="4.0" fill="#00082c" opacity="0.6"/><rect x="176.0" y="1542.2" width="5.5" height="1.6" fill="#00103c" opacity="0.22"/><rect x="176.0" y="1512.9" width="5.5" height="1.6" fill="#00103c" opacity="0.22"/></g>
<rect x="177.0" y="1511.7" width="1539.2" height="2" fill="#6aa0ff" opacity="0.85"/>
<rect x="1715.0" y="1512.0" width="2" height="389.5" fill="#9bbcff" opacity="0.9"/>
<rect x="173.2" y="1512.5" width="2.0" height="389.5" fill="#e6e6e6"/>
<rect x="175.2" y="1512.5" width="2.6" height="389.5" fill="#061a52"/>
<rect x="175.2" y="1899.7" width="1540.0" height="2.4" fill="#002a8c"/>
<rect x="175.2" y="1902.1" width="1540.0" height="1.6" fill="#8c8c8c"/>
<text x="176.5" y="1935.2" font-size="42" text-anchor="middle">0</text>
<text x="469.5" y="1935.2" font-size="42" text-anchor="middle">0.2</text>
<text x="762.5" y="1935.2" font-size="42" text-anchor="middle">0.4</text>
<text x="1055.5" y="1935.2" font-size="42" text-anchor="middle">0.6</text>
<text x="1348.5" y="1935.2" font-size="42" text-anchor="middle">0.8</text>
<text x="1641.5" y="1935.2" font-size="42" text-anchor="middle">1</text>
<text transform="translate(152.0 1586.7) scale(0.94 1)" font-size="42" text-anchor="end">0.1</text>
<text transform="translate(156.7 1733.2) scale(1.03 1)" font-size="42" text-anchor="end">0</text>
<text transform="translate(152.0 1879.7) scale(0.94 1)" font-size="42" text-anchor="end">-0.1</text>
<text transform="translate(57.3 1707.8) rotate(-90)" font-size="52" text-anchor="middle">Radial distance</text>
<text x="1156.0" y="1978.8" font-size="48.5">(d) DDES</text>
<text x="411.5" y="1987.7" font-size="52.1">Axial Distance</text>
<rect x="1738.1" y="1651.2" width="59.8" height="13.2" fill="#ff0000" opacity="0.5"/>
<rect x="1739.3" y="1651.2" width="57.6" height="13.2" fill="#ff0000"/>
<rect x="1738.1" y="1664.1" width="59.8" height="24.0" fill="#ff5d00" opacity="0.5"/>
<rect x="1739.3" y="1664.1" width="57.6" height="24.0" fill="#ff5d00"/>
<rect x="1738.1" y="1687.8" width="59.8" height="24.2" fill="#ffb900" opacity="0.5"/>
<rect x="1739.3" y="1687.8" width="57.6" height="24.2" fill="#ffb900"/>
<rect x="1738.1" y="1711.7" width="59.8" height="23.5" fill="#e8ff00" opacity="0.5"/>
<rect x="1739.3" y="1711.7" width="57.6" height="23.5" fill="#e8ff00"/>
<rect x="1738.1" y="1734.9" width="59.8" height="24.6" fill="#8bff00" opacity="0.5"/>
<rect x="1739.3" y="1734.9" width="57.6" height="24.6" fill="#8bff00"/>
<rect x="1738.1" y="1759.2" width="59.8" height="23.5" fill="#2eff00" opacity="0.5"/>
<rect x="1739.3" y="1759.2" width="57.6" height="23.5" fill="#2eff00"/>
<rect x="1738.1" y="1782.4" width="59.8" height="24.7" fill="#00ff2e" opacity="0.5"/>
<rect x="1739.3" y="1782.4" width="57.6" height="24.7" fill="#00ff2e"/>
<rect x="1738.1" y="1806.8" width="59.8" height="24.4" fill="#00ff8b" opacity="0.5"/>
<rect x="1739.3" y="1806.8" width="57.6" height="24.4" fill="#00ff8b"/>
<rect x="1738.1" y="1830.9" width="59.8" height="24.0" fill="#00ffe8" opacity="0.5"/>
<rect x="1739.3" y="1830.9" width="57.6" height="24.0" fill="#00ffe8"/>
<rect x="1738.1" y="1854.6" width="59.8" height="23.5" fill="#00b9ff" opacity="0.5"/>
<rect x="1739.3" y="1854.6" width="57.6" height="23.5" fill="#00b9ff"/>
<rect x="1738.1" y="1877.8" width="59.8" height="24.4" fill="#005dff" opacity="0.5"/>
<rect x="1739.3" y="1877.8" width="57.6" height="24.4" fill="#005dff"/>
<rect x="1738.1" y="1901.9" width="59.8" height="13.7" fill="#0000ff" opacity="0.5"/>
<rect x="1739.3" y="1901.9" width="57.6" height="11.8" fill="#0000ff"/>
<text x="1824" y="1683.2" font-size="38.5">0.1</text>
<text x="1824" y="1730.2" font-size="38.5">0.08</text>
<text x="1824" y="1777.8" font-size="38.5">0.06</text>
<text x="1824" y="1826.0" font-size="38.5">0.04</text>
<text x="1824" y="1874.2" font-size="38.5">0.02</text>
<text x="1824" y="1922.5" font-size="38.5">0</text>
<text transform="translate(1744.5 1644.4) scale(1.035 1)" font-size="41">U'/Uexit</text>

</svg>
</body></html>
